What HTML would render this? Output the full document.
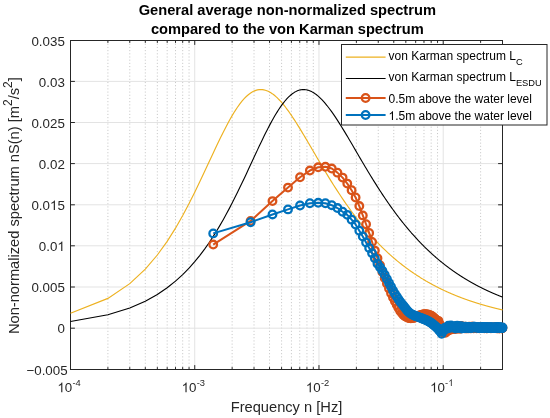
<!DOCTYPE html><html><head><meta charset="utf-8"><style>html,body{margin:0;padding:0;background:#fff;overflow:hidden;}svg{display:block;will-change:transform;}text{font-family:"Liberation Sans",sans-serif;}</style></head><body><svg width="550" height="418" viewBox="0 0 550 418"><rect x="0" y="0" width="550" height="418" fill="#fff"/><line x1="107.90" y1="40.5" x2="107.90" y2="369.5" stroke="#c8c8c8" stroke-width="1" stroke-dasharray="1.1 2.09"/><line x1="129.78" y1="40.5" x2="129.78" y2="369.5" stroke="#c8c8c8" stroke-width="1" stroke-dasharray="1.1 2.09"/><line x1="145.30" y1="40.5" x2="145.30" y2="369.5" stroke="#c8c8c8" stroke-width="1" stroke-dasharray="1.1 2.09"/><line x1="157.34" y1="40.5" x2="157.34" y2="369.5" stroke="#c8c8c8" stroke-width="1" stroke-dasharray="1.1 2.09"/><line x1="167.18" y1="40.5" x2="167.18" y2="369.5" stroke="#c8c8c8" stroke-width="1" stroke-dasharray="1.1 2.09"/><line x1="175.50" y1="40.5" x2="175.50" y2="369.5" stroke="#c8c8c8" stroke-width="1" stroke-dasharray="1.1 2.09"/><line x1="182.70" y1="40.5" x2="182.70" y2="369.5" stroke="#c8c8c8" stroke-width="1" stroke-dasharray="1.1 2.09"/><line x1="189.06" y1="40.5" x2="189.06" y2="369.5" stroke="#c8c8c8" stroke-width="1" stroke-dasharray="1.1 2.09"/><line x1="194.74" y1="40.5" x2="194.74" y2="369.5" stroke="#e3e3e3" stroke-width="1"/><line x1="232.14" y1="40.5" x2="232.14" y2="369.5" stroke="#c8c8c8" stroke-width="1" stroke-dasharray="1.1 2.09"/><line x1="254.02" y1="40.5" x2="254.02" y2="369.5" stroke="#c8c8c8" stroke-width="1" stroke-dasharray="1.1 2.09"/><line x1="269.54" y1="40.5" x2="269.54" y2="369.5" stroke="#c8c8c8" stroke-width="1" stroke-dasharray="1.1 2.09"/><line x1="281.58" y1="40.5" x2="281.58" y2="369.5" stroke="#c8c8c8" stroke-width="1" stroke-dasharray="1.1 2.09"/><line x1="291.42" y1="40.5" x2="291.42" y2="369.5" stroke="#c8c8c8" stroke-width="1" stroke-dasharray="1.1 2.09"/><line x1="299.74" y1="40.5" x2="299.74" y2="369.5" stroke="#c8c8c8" stroke-width="1" stroke-dasharray="1.1 2.09"/><line x1="306.94" y1="40.5" x2="306.94" y2="369.5" stroke="#c8c8c8" stroke-width="1" stroke-dasharray="1.1 2.09"/><line x1="313.30" y1="40.5" x2="313.30" y2="369.5" stroke="#c8c8c8" stroke-width="1" stroke-dasharray="1.1 2.09"/><line x1="318.98" y1="40.5" x2="318.98" y2="369.5" stroke="#e3e3e3" stroke-width="1"/><line x1="356.38" y1="40.5" x2="356.38" y2="369.5" stroke="#c8c8c8" stroke-width="1" stroke-dasharray="1.1 2.09"/><line x1="378.26" y1="40.5" x2="378.26" y2="369.5" stroke="#c8c8c8" stroke-width="1" stroke-dasharray="1.1 2.09"/><line x1="393.78" y1="40.5" x2="393.78" y2="369.5" stroke="#c8c8c8" stroke-width="1" stroke-dasharray="1.1 2.09"/><line x1="405.82" y1="40.5" x2="405.82" y2="369.5" stroke="#c8c8c8" stroke-width="1" stroke-dasharray="1.1 2.09"/><line x1="415.66" y1="40.5" x2="415.66" y2="369.5" stroke="#c8c8c8" stroke-width="1" stroke-dasharray="1.1 2.09"/><line x1="423.98" y1="40.5" x2="423.98" y2="369.5" stroke="#c8c8c8" stroke-width="1" stroke-dasharray="1.1 2.09"/><line x1="431.18" y1="40.5" x2="431.18" y2="369.5" stroke="#c8c8c8" stroke-width="1" stroke-dasharray="1.1 2.09"/><line x1="437.54" y1="40.5" x2="437.54" y2="369.5" stroke="#c8c8c8" stroke-width="1" stroke-dasharray="1.1 2.09"/><line x1="443.22" y1="40.5" x2="443.22" y2="369.5" stroke="#e3e3e3" stroke-width="1"/><line x1="480.62" y1="40.5" x2="480.62" y2="369.5" stroke="#c8c8c8" stroke-width="1" stroke-dasharray="1.1 2.09"/><line x1="502.50" y1="40.5" x2="502.50" y2="369.5" stroke="#c8c8c8" stroke-width="1" stroke-dasharray="1.1 2.09"/><line x1="70.5" y1="81.4" x2="502.5" y2="81.4" stroke="#e3e3e3" stroke-width="1"/><line x1="70.5" y1="122.5" x2="502.5" y2="122.5" stroke="#e3e3e3" stroke-width="1"/><line x1="70.5" y1="163.6" x2="502.5" y2="163.6" stroke="#e3e3e3" stroke-width="1"/><line x1="70.5" y1="204.8" x2="502.5" y2="204.8" stroke="#e3e3e3" stroke-width="1"/><line x1="70.5" y1="245.8" x2="502.5" y2="245.8" stroke="#e3e3e3" stroke-width="1"/><line x1="70.5" y1="287.0" x2="502.5" y2="287.0" stroke="#e3e3e3" stroke-width="1"/><line x1="70.5" y1="328.2" x2="502.5" y2="328.2" stroke="#e3e3e3" stroke-width="1"/><rect x="70.5" y="40.5" width="432.0" height="329.0" fill="none" stroke="#262626" stroke-width="1"/><line x1="70.50" y1="369.5" x2="70.50" y2="365.1" stroke="#262626" stroke-width="1"/><line x1="70.50" y1="40.5" x2="70.50" y2="44.9" stroke="#262626" stroke-width="1"/><line x1="107.90" y1="369.5" x2="107.90" y2="367.1" stroke="#262626" stroke-width="1"/><line x1="107.90" y1="40.5" x2="107.90" y2="42.9" stroke="#262626" stroke-width="1"/><line x1="129.78" y1="369.5" x2="129.78" y2="367.1" stroke="#262626" stroke-width="1"/><line x1="129.78" y1="40.5" x2="129.78" y2="42.9" stroke="#262626" stroke-width="1"/><line x1="145.30" y1="369.5" x2="145.30" y2="367.1" stroke="#262626" stroke-width="1"/><line x1="145.30" y1="40.5" x2="145.30" y2="42.9" stroke="#262626" stroke-width="1"/><line x1="157.34" y1="369.5" x2="157.34" y2="367.1" stroke="#262626" stroke-width="1"/><line x1="157.34" y1="40.5" x2="157.34" y2="42.9" stroke="#262626" stroke-width="1"/><line x1="167.18" y1="369.5" x2="167.18" y2="367.1" stroke="#262626" stroke-width="1"/><line x1="167.18" y1="40.5" x2="167.18" y2="42.9" stroke="#262626" stroke-width="1"/><line x1="175.50" y1="369.5" x2="175.50" y2="367.1" stroke="#262626" stroke-width="1"/><line x1="175.50" y1="40.5" x2="175.50" y2="42.9" stroke="#262626" stroke-width="1"/><line x1="182.70" y1="369.5" x2="182.70" y2="367.1" stroke="#262626" stroke-width="1"/><line x1="182.70" y1="40.5" x2="182.70" y2="42.9" stroke="#262626" stroke-width="1"/><line x1="189.06" y1="369.5" x2="189.06" y2="367.1" stroke="#262626" stroke-width="1"/><line x1="189.06" y1="40.5" x2="189.06" y2="42.9" stroke="#262626" stroke-width="1"/><line x1="194.74" y1="369.5" x2="194.74" y2="365.1" stroke="#262626" stroke-width="1"/><line x1="194.74" y1="40.5" x2="194.74" y2="44.9" stroke="#262626" stroke-width="1"/><line x1="232.14" y1="369.5" x2="232.14" y2="367.1" stroke="#262626" stroke-width="1"/><line x1="232.14" y1="40.5" x2="232.14" y2="42.9" stroke="#262626" stroke-width="1"/><line x1="254.02" y1="369.5" x2="254.02" y2="367.1" stroke="#262626" stroke-width="1"/><line x1="254.02" y1="40.5" x2="254.02" y2="42.9" stroke="#262626" stroke-width="1"/><line x1="269.54" y1="369.5" x2="269.54" y2="367.1" stroke="#262626" stroke-width="1"/><line x1="269.54" y1="40.5" x2="269.54" y2="42.9" stroke="#262626" stroke-width="1"/><line x1="281.58" y1="369.5" x2="281.58" y2="367.1" stroke="#262626" stroke-width="1"/><line x1="281.58" y1="40.5" x2="281.58" y2="42.9" stroke="#262626" stroke-width="1"/><line x1="291.42" y1="369.5" x2="291.42" y2="367.1" stroke="#262626" stroke-width="1"/><line x1="291.42" y1="40.5" x2="291.42" y2="42.9" stroke="#262626" stroke-width="1"/><line x1="299.74" y1="369.5" x2="299.74" y2="367.1" stroke="#262626" stroke-width="1"/><line x1="299.74" y1="40.5" x2="299.74" y2="42.9" stroke="#262626" stroke-width="1"/><line x1="306.94" y1="369.5" x2="306.94" y2="367.1" stroke="#262626" stroke-width="1"/><line x1="306.94" y1="40.5" x2="306.94" y2="42.9" stroke="#262626" stroke-width="1"/><line x1="313.30" y1="369.5" x2="313.30" y2="367.1" stroke="#262626" stroke-width="1"/><line x1="313.30" y1="40.5" x2="313.30" y2="42.9" stroke="#262626" stroke-width="1"/><line x1="318.98" y1="369.5" x2="318.98" y2="365.1" stroke="#262626" stroke-width="1"/><line x1="318.98" y1="40.5" x2="318.98" y2="44.9" stroke="#262626" stroke-width="1"/><line x1="356.38" y1="369.5" x2="356.38" y2="367.1" stroke="#262626" stroke-width="1"/><line x1="356.38" y1="40.5" x2="356.38" y2="42.9" stroke="#262626" stroke-width="1"/><line x1="378.26" y1="369.5" x2="378.26" y2="367.1" stroke="#262626" stroke-width="1"/><line x1="378.26" y1="40.5" x2="378.26" y2="42.9" stroke="#262626" stroke-width="1"/><line x1="393.78" y1="369.5" x2="393.78" y2="367.1" stroke="#262626" stroke-width="1"/><line x1="393.78" y1="40.5" x2="393.78" y2="42.9" stroke="#262626" stroke-width="1"/><line x1="405.82" y1="369.5" x2="405.82" y2="367.1" stroke="#262626" stroke-width="1"/><line x1="405.82" y1="40.5" x2="405.82" y2="42.9" stroke="#262626" stroke-width="1"/><line x1="415.66" y1="369.5" x2="415.66" y2="367.1" stroke="#262626" stroke-width="1"/><line x1="415.66" y1="40.5" x2="415.66" y2="42.9" stroke="#262626" stroke-width="1"/><line x1="423.98" y1="369.5" x2="423.98" y2="367.1" stroke="#262626" stroke-width="1"/><line x1="423.98" y1="40.5" x2="423.98" y2="42.9" stroke="#262626" stroke-width="1"/><line x1="431.18" y1="369.5" x2="431.18" y2="367.1" stroke="#262626" stroke-width="1"/><line x1="431.18" y1="40.5" x2="431.18" y2="42.9" stroke="#262626" stroke-width="1"/><line x1="437.54" y1="369.5" x2="437.54" y2="367.1" stroke="#262626" stroke-width="1"/><line x1="437.54" y1="40.5" x2="437.54" y2="42.9" stroke="#262626" stroke-width="1"/><line x1="443.22" y1="369.5" x2="443.22" y2="365.1" stroke="#262626" stroke-width="1"/><line x1="443.22" y1="40.5" x2="443.22" y2="44.9" stroke="#262626" stroke-width="1"/><line x1="480.62" y1="369.5" x2="480.62" y2="367.1" stroke="#262626" stroke-width="1"/><line x1="480.62" y1="40.5" x2="480.62" y2="42.9" stroke="#262626" stroke-width="1"/><line x1="502.50" y1="369.5" x2="502.50" y2="367.1" stroke="#262626" stroke-width="1"/><line x1="502.50" y1="40.5" x2="502.50" y2="42.9" stroke="#262626" stroke-width="1"/><line x1="70.5" y1="40.5" x2="74.9" y2="40.5" stroke="#262626" stroke-width="1"/><line x1="502.5" y1="40.5" x2="498.1" y2="40.5" stroke="#262626" stroke-width="1"/><line x1="70.5" y1="81.4" x2="74.9" y2="81.4" stroke="#262626" stroke-width="1"/><line x1="502.5" y1="81.4" x2="498.1" y2="81.4" stroke="#262626" stroke-width="1"/><line x1="70.5" y1="122.5" x2="74.9" y2="122.5" stroke="#262626" stroke-width="1"/><line x1="502.5" y1="122.5" x2="498.1" y2="122.5" stroke="#262626" stroke-width="1"/><line x1="70.5" y1="163.6" x2="74.9" y2="163.6" stroke="#262626" stroke-width="1"/><line x1="502.5" y1="163.6" x2="498.1" y2="163.6" stroke="#262626" stroke-width="1"/><line x1="70.5" y1="204.8" x2="74.9" y2="204.8" stroke="#262626" stroke-width="1"/><line x1="502.5" y1="204.8" x2="498.1" y2="204.8" stroke="#262626" stroke-width="1"/><line x1="70.5" y1="245.8" x2="74.9" y2="245.8" stroke="#262626" stroke-width="1"/><line x1="502.5" y1="245.8" x2="498.1" y2="245.8" stroke="#262626" stroke-width="1"/><line x1="70.5" y1="287.0" x2="74.9" y2="287.0" stroke="#262626" stroke-width="1"/><line x1="502.5" y1="287.0" x2="498.1" y2="287.0" stroke="#262626" stroke-width="1"/><line x1="70.5" y1="328.2" x2="74.9" y2="328.2" stroke="#262626" stroke-width="1"/><line x1="502.5" y1="328.2" x2="498.1" y2="328.2" stroke="#262626" stroke-width="1"/><line x1="70.5" y1="369.5" x2="74.9" y2="369.5" stroke="#262626" stroke-width="1"/><line x1="502.5" y1="369.5" x2="498.1" y2="369.5" stroke="#262626" stroke-width="1"/><path d="M70.50,313.32 L107.90,298.37 L129.78,283.61 L145.30,269.12 L157.34,255.01 L167.18,241.34 L175.50,228.18 L182.70,215.58 L189.06,203.59 L194.74,192.25 L199.88,181.58 L204.58,171.60 L208.90,162.31 L212.90,153.70 L216.62,145.78 L220.10,138.52 L223.37,131.90 L226.46,125.90 L229.37,120.49 L232.14,115.64 L234.77,111.31 L237.28,107.49 L239.68,104.13 L241.98,101.20 L244.18,98.68 L246.30,96.53 L248.33,94.72 L250.30,93.23 L252.19,92.03 L254.02,91.09 L255.79,90.40 L257.50,89.93 L259.16,89.66 L260.77,89.58 L262.34,89.65 L263.86,89.88 L265.33,90.25 L266.77,90.73 L268.17,91.32 L269.54,92.02 L270.87,92.79 L272.17,93.65 L273.44,94.58 L274.68,95.56 L275.90,96.61 L277.08,97.69 L278.24,98.83 L279.38,99.99 L280.49,101.19 L281.58,102.42 L282.65,103.66 L283.70,104.93 L284.73,106.22 L285.73,107.51 L286.72,108.82 L287.70,110.13 L288.65,111.45 L289.59,112.77 L290.51,114.09 L291.42,115.42 L292.31,116.74 L293.19,118.06 L294.05,119.37 L294.90,120.68 L295.74,121.99 L296.56,123.28 L297.37,124.57 L298.17,125.85 L298.96,127.12 L299.74,128.38 L300.50,129.64 L301.26,130.88 L302.00,132.11 L302.73,133.33 L303.46,134.54 L304.17,135.74 L304.88,136.92 L305.58,138.10 L306.26,139.26 L306.94,140.41 L307.61,141.55 L308.27,142.68 L308.93,143.80 L309.57,144.90 L310.21,145.99 L310.84,147.07 L311.47,148.14 L312.08,149.19 L312.69,150.24 L313.30,151.27 L313.89,152.29 L314.48,153.30 L315.07,154.30 L315.64,155.29 L316.21,156.26 L316.78,157.23 L317.34,158.18 L317.89,159.12 L318.44,160.06 L318.98,160.98 L319.52,161.89 L322.13,166.29 L324.61,170.45 L326.99,174.39 L329.27,178.11 L331.45,181.63 L333.55,184.98 L335.57,188.15 L337.52,191.17 L339.40,194.04 L341.22,196.77 L342.98,199.37 L344.68,201.86 L346.33,204.24 L347.93,206.51 L349.48,208.69 L351.00,210.77 L352.47,212.77 L353.90,214.69 L355.29,216.53 L356.65,218.31 L357.98,220.02 L359.27,221.66 L360.53,223.24 L361.77,224.77 L362.98,226.25 L364.16,227.67 L365.31,229.05 L366.44,230.39 L367.55,231.68 L368.64,232.92 L369.70,234.13 L370.75,235.31 L371.77,236.45 L372.77,237.55 L373.76,238.62 L374.73,239.66 L375.68,240.68 L376.62,241.66 L377.54,242.62 L378.44,243.55 L379.33,244.46 L380.20,245.34 L381.06,246.20 L381.91,247.04 L382.74,247.86 L383.57,248.66 L384.37,249.44 L385.17,250.20 L385.96,250.94 L386.73,251.67 L387.49,252.38 L388.25,253.07 L388.99,253.75 L389.72,254.41 L390.44,255.06 L391.16,255.69 L391.86,256.31 L392.55,256.92 L393.24,257.52 L393.92,258.10 L394.59,258.67 L395.25,259.23 L395.90,259.78 L396.54,260.32 L397.18,260.85 L397.81,261.36 L398.43,261.87 L399.05,262.37 L399.66,262.86 L400.26,263.34 L400.85,263.81 L401.44,264.28 L402.02,264.73 L402.60,265.18 L403.17,265.62 L403.73,266.05 L404.29,266.47 L404.84,266.89 L405.39,267.30 L405.93,267.71 L406.47,268.10 L407.00,268.49 L407.52,268.88 L408.04,269.26 L408.56,269.63 L409.07,270.00 L409.57,270.36 L410.07,270.71 L410.57,271.06 L411.06,271.41 L411.55,271.75 L412.03,272.08 L412.51,272.41 L412.99,272.74 L413.46,273.06 L413.92,273.38 L414.39,273.69 L414.84,273.99 L415.30,274.30 L415.75,274.60 L416.20,274.89 L416.64,275.18 L417.08,275.47 L417.52,275.75 L417.95,276.03 L418.38,276.31 L418.80,276.58 L419.23,276.85 L419.65,277.11 L420.06,277.37 L420.47,277.63 L420.88,277.89 L421.29,278.14 L421.69,278.39 L422.09,278.63 L422.49,278.88 L422.89,279.12 L423.28,279.35 L423.67,279.59 L424.05,279.82 L424.44,280.05 L424.82,280.27 L425.20,280.50 L425.57,280.72 L425.94,280.94 L426.32,281.15 L426.68,281.36 L427.05,281.58 L427.41,281.78 L427.77,281.99 L428.13,282.19 L428.49,282.40 L428.84,282.60 L429.19,282.79 L429.54,282.99 L429.89,283.18 L430.23,283.37 L430.57,283.56 L430.91,283.75 L431.25,283.94 L431.59,284.12 L431.92,284.30 L432.25,284.48 L432.58,284.66 L432.91,284.83 L433.23,285.01 L433.56,285.18 L433.88,285.35 L434.20,285.52 L434.52,285.69 L434.83,285.85 L435.15,286.02 L435.46,286.18 L435.77,286.34 L436.08,286.50 L436.39,286.66 L436.69,286.82 L436.99,286.97 L437.30,287.13 L437.60,287.28 L437.90,287.43 L438.19,287.58 L438.49,287.73 L438.78,287.87 L439.07,288.02 L439.36,288.16 L439.65,288.31 L439.94,288.45 L440.23,288.59 L440.51,288.73 L440.79,288.87 L441.08,289.00 L441.36,289.14 L441.63,289.27 L441.91,289.41 L442.19,289.54 L442.46,289.67 L442.73,289.80 L443.01,289.93 L443.28,290.06 L443.54,290.18 L443.81,290.31 L444.08,290.43 L444.34,290.56 L444.61,290.68 L444.87,290.80 L445.13,290.92 L445.39,291.04 L445.65,291.16 L445.91,291.28 L446.16,291.40 L446.42,291.51 L446.67,291.63 L446.92,291.74 L447.17,291.86 L447.42,291.97 L447.67,292.08 L447.92,292.19 L448.17,292.30 L448.41,292.41 L448.66,292.52 L448.90,292.63 L449.14,292.73 L449.39,292.84 L449.63,292.94 L449.86,293.05 L450.10,293.15 L450.34,293.25 L450.58,293.36 L450.81,293.46 L451.04,293.56 L451.28,293.66 L451.51,293.76 L451.74,293.86 L451.97,293.95 L452.20,294.05 L452.43,294.15 L452.65,294.24 L452.88,294.34 L453.10,294.43 L453.33,294.53 L453.55,294.62 L453.77,294.71 L454.00,294.80 L454.22,294.90 L454.44,294.99 L454.65,295.08 L454.87,295.17 L455.09,295.25 L455.31,295.34 L455.52,295.43 L455.74,295.52 L455.95,295.60 L456.16,295.69 L456.37,295.77 L456.58,295.86 L456.79,295.94 L457.00,296.03 L457.21,296.11 L457.42,296.19 L457.63,296.28 L457.83,296.36 L458.04,296.44 L458.24,296.52 L458.45,296.60 L458.65,296.68 L458.85,296.76 L459.05,296.84 L459.25,296.91 L459.45,296.99 L459.65,297.07 L459.85,297.14 L460.05,297.22 L460.25,297.30 L460.44,297.37 L460.64,297.45 L460.83,297.52 L461.03,297.60 L461.22,297.67 L461.42,297.74 L461.61,297.81 L461.80,297.89 L461.99,297.96 L462.18,298.03 L462.37,298.10 L462.56,298.17 L462.75,298.24 L462.93,298.31 L463.12,298.38 L463.31,298.45 L463.49,298.52 L463.68,298.59 L463.86,298.65 L464.05,298.72 L464.23,298.79 L464.41,298.85 L464.59,298.92 L464.78,298.99 L464.96,299.05 L465.14,299.12 L465.32,299.18 L465.49,299.25 L465.67,299.31 L465.85,299.37 L466.03,299.44 L466.20,299.50 L466.38,299.56 L466.55,299.62 L466.73,299.69 L466.90,299.75 L467.08,299.81 L467.25,299.87 L467.42,299.93 L467.60,299.99 L467.77,300.05 L467.94,300.11 L468.11,300.17 L468.28,300.23 L468.45,300.29 L468.62,300.35 L468.78,300.41 L468.95,300.46 L469.12,300.52 L469.29,300.58 L469.45,300.63 L469.62,300.69 L469.78,300.75 L469.95,300.80 L470.11,300.86 L470.28,300.92 L470.44,300.97 L470.60,301.03 L470.76,301.08 L470.92,301.13 L471.09,301.19 L471.25,301.24 L471.41,301.30 L471.57,301.35 L471.73,301.40 L471.88,301.46 L472.04,301.51 L472.20,301.56 L472.36,301.61 L472.52,301.66 L472.67,301.72 L472.83,301.77 L472.98,301.82 L473.14,301.87 L473.29,301.92 L473.45,301.97 L473.60,302.02 L473.76,302.07 L473.91,302.12 L474.06,302.17 L474.21,302.22 L474.36,302.27 L474.52,302.32 L474.67,302.36 L474.82,302.41 L474.97,302.46 L475.12,302.51 L475.27,302.56 L475.41,302.60 L475.56,302.65 L475.71,302.70 L475.86,302.74 L476.01,302.79 L476.15,302.84 L476.30,302.88 L476.44,302.93 L476.59,302.98 L476.74,303.02 L476.88,303.07 L477.02,303.11 L477.17,303.16 L477.31,303.20 L477.46,303.25 L477.60,303.29 L477.74,303.33 L477.88,303.38 L478.02,303.42 L478.17,303.46 L478.31,303.51 L478.45,303.55 L478.59,303.59 L478.73,303.64 L478.87,303.68 L479.01,303.72 L479.15,303.76 L479.28,303.81 L479.42,303.85 L479.56,303.89 L479.70,303.93 L479.83,303.97 L479.97,304.01 L480.11,304.05 L480.24,304.10 L480.38,304.14 L480.51,304.18 L480.65,304.22 L480.78,304.26 L480.92,304.30 L481.05,304.34 L481.19,304.38 L481.32,304.42 L481.45,304.46 L481.58,304.49 L481.72,304.53 L481.85,304.57 L481.98,304.61 L482.11,304.65 L482.24,304.69 L482.37,304.73 L482.50,304.76 L482.63,304.80 L482.76,304.84 L482.89,304.88 L483.02,304.91 L483.15,304.95 L483.28,304.99 L483.41,305.03 L483.54,305.06 L483.66,305.10 L483.79,305.14 L483.92,305.17 L484.05,305.21 L484.17,305.25 L484.30,305.28 L484.42,305.32 L484.55,305.35 L484.67,305.39 L484.80,305.42 L484.92,305.46 L485.05,305.49 L485.17,305.53 L485.30,305.56 L485.42,305.60 L485.54,305.63 L485.67,305.67 L485.79,305.70 L485.91,305.74 L486.03,305.77 L486.16,305.81 L486.28,305.84 L486.40,305.87 L486.52,305.91 L486.64,305.94 L486.76,305.97 L486.88,306.01 L487.00,306.04 L487.12,306.07 L487.24,306.11 L487.36,306.14 L487.48,306.17 L487.60,306.20 L487.72,306.24 L487.83,306.27 L487.95,306.30 L488.07,306.33 L488.19,306.36 L488.30,306.40 L488.42,306.43 L488.54,306.46 L488.65,306.49 L488.77,306.52 L488.89,306.55 L489.00,306.58 L489.12,306.62 L489.23,306.65 L489.35,306.68 L489.46,306.71 L489.58,306.74 L489.69,306.77 L489.80,306.80 L489.92,306.83 L490.03,306.86 L490.14,306.89 L490.26,306.92 L490.37,306.95 L490.48,306.98 L490.59,307.01 L490.71,307.04 L490.82,307.07 L490.93,307.10 L491.04,307.13 L491.15,307.16 L491.26,307.18 L491.37,307.21 L491.48,307.24 L491.59,307.27 L491.70,307.30 L491.81,307.33 L491.92,307.36 L492.03,307.39 L492.14,307.41 L492.25,307.44 L492.36,307.47 L492.47,307.50 L492.58,307.53 L492.68,307.55 L492.79,307.58 L492.90,307.61 L493.01,307.64 L493.11,307.66 L493.22,307.69 L493.33,307.72 L493.43,307.75 L493.54,307.77 L493.65,307.80 L493.75,307.83 L493.86,307.85 L493.96,307.88 L494.07,307.91 L494.17,307.93 L494.28,307.96 L494.38,307.99 L494.49,308.01 L494.59,308.04 L494.70,308.06 L494.80,308.09 L494.90,308.12 L495.01,308.14 L495.11,308.17 L495.21,308.19 L495.32,308.22 L495.42,308.25 L495.52,308.27 L495.62,308.30 L495.72,308.32 L495.83,308.35 L495.93,308.37 L496.03,308.40 L496.13,308.42 L496.23,308.45 L496.33,308.47 L496.43,308.50 L496.53,308.52 L496.63,308.55 L496.74,308.57 L496.84,308.59 L496.93,308.62 L497.03,308.64 L497.13,308.67 L497.23,308.69 L497.33,308.72 L497.43,308.74 L497.53,308.76 L497.63,308.79 L497.73,308.81 L497.82,308.83 L497.92,308.86 L498.02,308.88 L498.12,308.91 L498.22,308.93 L498.31,308.95 L498.41,308.98 L498.51,309.00 L498.60,309.02 L498.70,309.04 L498.80,309.07 L498.89,309.09 L498.99,309.11 L499.08,309.14 L499.18,309.16 L499.28,309.18 L499.37,309.20 L499.47,309.23 L499.56,309.25 L499.66,309.27 L499.75,309.29 L499.85,309.32 L499.94,309.34 L500.03,309.36 L500.13,309.38 L500.22,309.40 L500.32,309.43 L500.41,309.45 L500.50,309.47 L500.60,309.49 L500.69,309.51 L500.78,309.54 L500.88,309.56 L500.97,309.58 L501.06,309.60 L501.15,309.62 L501.24,309.64 L501.34,309.66 L501.43,309.69 L501.52,309.71 L501.61,309.73 L501.70,309.75 L501.79,309.77 L501.88,309.79 L501.98,309.81 L502.07,309.83 L502.16,309.85 L502.25,309.87 L502.34,309.89 L502.43,309.91 L502.50,309.93" fill="none" stroke="#EDB120" stroke-width="1.15"/><path d="M70.50,321.56 L107.90,314.76 L129.78,307.97 L145.30,301.21 L157.34,294.48 L167.18,287.80 L175.50,281.17 L182.70,274.61 L189.06,268.11 L194.74,261.69 L199.88,255.35 L204.58,249.10 L208.90,242.95 L212.90,236.90 L216.62,230.96 L220.10,225.13 L223.37,219.42 L226.46,213.84 L229.37,208.38 L232.14,203.05 L234.77,197.85 L237.28,192.79 L239.68,187.86 L241.98,183.08 L244.18,178.43 L246.30,173.93 L248.33,169.56 L250.30,165.34 L252.19,161.26 L254.02,157.32 L255.79,153.52 L257.50,149.86 L259.16,146.33 L260.77,142.95 L262.34,139.69 L263.86,136.57 L265.33,133.58 L266.77,130.72 L268.17,127.98 L269.54,125.37 L270.87,122.87 L272.17,120.50 L273.44,118.23 L274.68,116.08 L275.90,114.04 L277.08,112.11 L278.24,110.27 L279.38,108.54 L280.49,106.90 L281.58,105.36 L282.65,103.91 L283.70,102.55 L284.73,101.27 L285.73,100.08 L286.72,98.96 L287.70,97.93 L288.65,96.96 L289.59,96.07 L290.51,95.25 L291.42,94.49 L292.31,93.80 L293.19,93.17 L294.05,92.60 L294.90,92.08 L295.74,91.62 L296.56,91.22 L297.37,90.86 L298.17,90.55 L298.96,90.29 L299.74,90.07 L300.50,89.89 L301.26,89.76 L302.00,89.66 L302.73,89.60 L303.46,89.58 L304.17,89.59 L304.88,89.63 L305.58,89.70 L306.26,89.81 L306.94,89.94 L307.61,90.10 L308.27,90.29 L308.93,90.49 L309.57,90.73 L310.21,90.98 L310.84,91.26 L311.47,91.56 L312.08,91.87 L312.69,92.21 L313.30,92.56 L313.89,92.93 L314.48,93.31 L315.07,93.71 L315.64,94.12 L316.21,94.55 L316.78,94.99 L317.34,95.44 L317.89,95.90 L318.44,96.37 L318.98,96.86 L319.52,97.35 L322.13,99.93 L324.61,102.68 L326.99,105.53 L329.27,108.47 L331.45,111.44 L333.55,114.43 L335.57,117.42 L337.52,120.39 L339.40,123.33 L341.22,126.24 L342.98,129.09 L344.68,131.90 L346.33,134.65 L347.93,137.34 L349.48,139.97 L351.00,142.54 L352.47,145.05 L353.90,147.50 L355.29,149.88 L356.65,152.21 L357.98,154.48 L359.27,156.69 L360.53,158.85 L361.77,160.95 L362.98,162.99 L364.16,164.99 L365.31,166.93 L366.44,168.83 L367.55,170.67 L368.64,172.47 L369.70,174.23 L370.75,175.94 L371.77,177.61 L372.77,179.24 L373.76,180.84 L374.73,182.39 L375.68,183.91 L376.62,185.39 L377.54,186.83 L378.44,188.25 L379.33,189.63 L380.20,190.98 L381.06,192.30 L381.91,193.59 L382.74,194.85 L383.57,196.08 L384.37,197.29 L385.17,198.47 L385.96,199.63 L386.73,200.77 L387.49,201.88 L388.25,202.96 L388.99,204.03 L389.72,205.07 L390.44,206.10 L391.16,207.10 L391.86,208.09 L392.55,209.05 L393.24,210.00 L393.92,210.93 L394.59,211.84 L395.25,212.73 L395.90,213.61 L396.54,214.48 L397.18,215.32 L397.81,216.16 L398.43,216.97 L399.05,217.78 L399.66,218.57 L400.26,219.34 L400.85,220.10 L401.44,220.85 L402.02,221.59 L402.60,222.32 L403.17,223.03 L403.73,223.73 L404.29,224.42 L404.84,225.10 L405.39,225.77 L405.93,226.43 L406.47,227.08 L407.00,227.72 L407.52,228.34 L408.04,228.96 L408.56,229.57 L409.07,230.17 L409.57,230.76 L410.07,231.35 L410.57,231.92 L411.06,232.49 L411.55,233.05 L412.03,233.60 L412.51,234.14 L412.99,234.68 L413.46,235.20 L413.92,235.72 L414.39,236.24 L414.84,236.74 L415.30,237.24 L415.75,237.74 L416.20,238.22 L416.64,238.70 L417.08,239.18 L417.52,239.64 L417.95,240.11 L418.38,240.56 L418.80,241.01 L419.23,241.46 L419.65,241.90 L420.06,242.33 L420.47,242.76 L420.88,243.18 L421.29,243.60 L421.69,244.01 L422.09,244.42 L422.49,244.82 L422.89,245.22 L423.28,245.61 L423.67,246.00 L424.05,246.39 L424.44,246.77 L424.82,247.14 L425.20,247.52 L425.57,247.88 L425.94,248.25 L426.32,248.61 L426.68,248.96 L427.05,249.31 L427.41,249.66 L427.77,250.00 L428.13,250.34 L428.49,250.68 L428.84,251.01 L429.19,251.34 L429.54,251.67 L429.89,251.99 L430.23,252.31 L430.57,252.63 L430.91,252.94 L431.25,253.25 L431.59,253.56 L431.92,253.86 L432.25,254.16 L432.58,254.46 L432.91,254.75 L433.23,255.04 L433.56,255.33 L433.88,255.62 L434.20,255.90 L434.52,256.18 L434.83,256.46 L435.15,256.74 L435.46,257.01 L435.77,257.28 L436.08,257.55 L436.39,257.81 L436.69,258.07 L436.99,258.33 L437.30,258.59 L437.60,258.85 L437.90,259.10 L438.19,259.35 L438.49,259.60 L438.78,259.85 L439.07,260.09 L439.36,260.33 L439.65,260.57 L439.94,260.81 L440.23,261.05 L440.51,261.28 L440.79,261.51 L441.08,261.74 L441.36,261.97 L441.63,262.19 L441.91,262.42 L442.19,262.64 L442.46,262.86 L442.73,263.08 L443.01,263.30 L443.28,263.51 L443.54,263.72 L443.81,263.93 L444.08,264.14 L444.34,264.35 L444.61,264.56 L444.87,264.76 L445.13,264.97 L445.39,265.17 L445.65,265.37 L445.91,265.57 L446.16,265.76 L446.42,265.96 L446.67,266.15 L446.92,266.34 L447.17,266.53 L447.42,266.72 L447.67,266.91 L447.92,267.10 L448.17,267.28 L448.41,267.47 L448.66,267.65 L448.90,267.83 L449.14,268.01 L449.39,268.19 L449.63,268.37 L449.86,268.54 L450.10,268.72 L450.34,268.89 L450.58,269.06 L450.81,269.23 L451.04,269.40 L451.28,269.57 L451.51,269.74 L451.74,269.90 L451.97,270.07 L452.20,270.23 L452.43,270.39 L452.65,270.55 L452.88,270.71 L453.10,270.87 L453.33,271.03 L453.55,271.19 L453.77,271.34 L454.00,271.50 L454.22,271.65 L454.44,271.81 L454.65,271.96 L454.87,272.11 L455.09,272.26 L455.31,272.41 L455.52,272.55 L455.74,272.70 L455.95,272.85 L456.16,272.99 L456.37,273.14 L456.58,273.28 L456.79,273.42 L457.00,273.56 L457.21,273.70 L457.42,273.84 L457.63,273.98 L457.83,274.12 L458.04,274.25 L458.24,274.39 L458.45,274.53 L458.65,274.66 L458.85,274.79 L459.05,274.93 L459.25,275.06 L459.45,275.19 L459.65,275.32 L459.85,275.45 L460.05,275.58 L460.25,275.70 L460.44,275.83 L460.64,275.96 L460.83,276.08 L461.03,276.21 L461.22,276.33 L461.42,276.45 L461.61,276.58 L461.80,276.70 L461.99,276.82 L462.18,276.94 L462.37,277.06 L462.56,277.18 L462.75,277.30 L462.93,277.42 L463.12,277.53 L463.31,277.65 L463.49,277.76 L463.68,277.88 L463.86,277.99 L464.05,278.11 L464.23,278.22 L464.41,278.33 L464.59,278.45 L464.78,278.56 L464.96,278.67 L465.14,278.78 L465.32,278.89 L465.49,279.00 L465.67,279.10 L465.85,279.21 L466.03,279.32 L466.20,279.42 L466.38,279.53 L466.55,279.64 L466.73,279.74 L466.90,279.84 L467.08,279.95 L467.25,280.05 L467.42,280.15 L467.60,280.26 L467.77,280.36 L467.94,280.46 L468.11,280.56 L468.28,280.66 L468.45,280.76 L468.62,280.86 L468.78,280.95 L468.95,281.05 L469.12,281.15 L469.29,281.25 L469.45,281.34 L469.62,281.44 L469.78,281.53 L469.95,281.63 L470.11,281.72 L470.28,281.82 L470.44,281.91 L470.60,282.00 L470.76,282.10 L470.92,282.19 L471.09,282.28 L471.25,282.37 L471.41,282.46 L471.57,282.55 L471.73,282.64 L471.88,282.73 L472.04,282.82 L472.20,282.91 L472.36,283.00 L472.52,283.08 L472.67,283.17 L472.83,283.26 L472.98,283.34 L473.14,283.43 L473.29,283.52 L473.45,283.60 L473.60,283.69 L473.76,283.77 L473.91,283.85 L474.06,283.94 L474.21,284.02 L474.36,284.10 L474.52,284.19 L474.67,284.27 L474.82,284.35 L474.97,284.43 L475.12,284.51 L475.27,284.59 L475.41,284.67 L475.56,284.75 L475.71,284.83 L475.86,284.91 L476.01,284.99 L476.15,285.07 L476.30,285.15 L476.44,285.22 L476.59,285.30 L476.74,285.38 L476.88,285.46 L477.02,285.53 L477.17,285.61 L477.31,285.68 L477.46,285.76 L477.60,285.83 L477.74,285.91 L477.88,285.98 L478.02,286.06 L478.17,286.13 L478.31,286.20 L478.45,286.28 L478.59,286.35 L478.73,286.42 L478.87,286.49 L479.01,286.57 L479.15,286.64 L479.28,286.71 L479.42,286.78 L479.56,286.85 L479.70,286.92 L479.83,286.99 L479.97,287.06 L480.11,287.13 L480.24,287.20 L480.38,287.27 L480.51,287.34 L480.65,287.40 L480.78,287.47 L480.92,287.54 L481.05,287.61 L481.19,287.67 L481.32,287.74 L481.45,287.81 L481.58,287.87 L481.72,287.94 L481.85,288.00 L481.98,288.07 L482.11,288.14 L482.24,288.20 L482.37,288.27 L482.50,288.33 L482.63,288.39 L482.76,288.46 L482.89,288.52 L483.02,288.58 L483.15,288.65 L483.28,288.71 L483.41,288.77 L483.54,288.84 L483.66,288.90 L483.79,288.96 L483.92,289.02 L484.05,289.08 L484.17,289.14 L484.30,289.21 L484.42,289.27 L484.55,289.33 L484.67,289.39 L484.80,289.45 L484.92,289.51 L485.05,289.57 L485.17,289.63 L485.30,289.69 L485.42,289.74 L485.54,289.80 L485.67,289.86 L485.79,289.92 L485.91,289.98 L486.03,290.04 L486.16,290.09 L486.28,290.15 L486.40,290.21 L486.52,290.26 L486.64,290.32 L486.76,290.38 L486.88,290.43 L487.00,290.49 L487.12,290.55 L487.24,290.60 L487.36,290.66 L487.48,290.71 L487.60,290.77 L487.72,290.82 L487.83,290.88 L487.95,290.93 L488.07,290.99 L488.19,291.04 L488.30,291.09 L488.42,291.15 L488.54,291.20 L488.65,291.25 L488.77,291.31 L488.89,291.36 L489.00,291.41 L489.12,291.47 L489.23,291.52 L489.35,291.57 L489.46,291.62 L489.58,291.67 L489.69,291.73 L489.80,291.78 L489.92,291.83 L490.03,291.88 L490.14,291.93 L490.26,291.98 L490.37,292.03 L490.48,292.08 L490.59,292.13 L490.71,292.18 L490.82,292.23 L490.93,292.28 L491.04,292.33 L491.15,292.38 L491.26,292.43 L491.37,292.48 L491.48,292.53 L491.59,292.58 L491.70,292.62 L491.81,292.67 L491.92,292.72 L492.03,292.77 L492.14,292.82 L492.25,292.87 L492.36,292.91 L492.47,292.96 L492.58,293.01 L492.68,293.05 L492.79,293.10 L492.90,293.15 L493.01,293.19 L493.11,293.24 L493.22,293.29 L493.33,293.33 L493.43,293.38 L493.54,293.43 L493.65,293.47 L493.75,293.52 L493.86,293.56 L493.96,293.61 L494.07,293.65 L494.17,293.70 L494.28,293.74 L494.38,293.79 L494.49,293.83 L494.59,293.88 L494.70,293.92 L494.80,293.96 L494.90,294.01 L495.01,294.05 L495.11,294.10 L495.21,294.14 L495.32,294.18 L495.42,294.23 L495.52,294.27 L495.62,294.31 L495.72,294.35 L495.83,294.40 L495.93,294.44 L496.03,294.48 L496.13,294.53 L496.23,294.57 L496.33,294.61 L496.43,294.65 L496.53,294.69 L496.63,294.73 L496.74,294.78 L496.84,294.82 L496.93,294.86 L497.03,294.90 L497.13,294.94 L497.23,294.98 L497.33,295.02 L497.43,295.06 L497.53,295.10 L497.63,295.14 L497.73,295.18 L497.82,295.23 L497.92,295.27 L498.02,295.31 L498.12,295.34 L498.22,295.38 L498.31,295.42 L498.41,295.46 L498.51,295.50 L498.60,295.54 L498.70,295.58 L498.80,295.62 L498.89,295.66 L498.99,295.70 L499.08,295.74 L499.18,295.78 L499.28,295.81 L499.37,295.85 L499.47,295.89 L499.56,295.93 L499.66,295.97 L499.75,296.00 L499.85,296.04 L499.94,296.08 L500.03,296.12 L500.13,296.15 L500.22,296.19 L500.32,296.23 L500.41,296.27 L500.50,296.30 L500.60,296.34 L500.69,296.38 L500.78,296.41 L500.88,296.45 L500.97,296.49 L501.06,296.52 L501.15,296.56 L501.24,296.60 L501.34,296.63 L501.43,296.67 L501.52,296.70 L501.61,296.74 L501.70,296.77 L501.79,296.81 L501.88,296.85 L501.98,296.88 L502.07,296.92 L502.16,296.95 L502.25,296.99 L502.34,297.02 L502.43,297.06 L502.50,297.08" fill="none" stroke="#000" stroke-width="1.1"/><path d="M213.20,244.54 L250.60,220.95 L272.48,201.09 L288.00,187.61 L300.04,177.27 L309.88,170.55 L318.20,167.28 L325.40,166.80 L331.76,168.56 L337.44,172.64 L342.59,177.61 L347.28,183.59 L351.60,190.27 L355.60,197.51 L359.32,206.06 L362.80,215.42 L366.08,224.27 L369.16,232.93 L372.08,241.96 L374.84,250.58 L377.48,258.22 L379.99,265.32 L382.39,272.03 L384.68,277.95 L386.88,283.45 L389.00,288.62 L391.04,293.32 L393.00,297.53 L394.89,301.37 L396.72,304.85 L398.49,308.04 L400.20,310.89 L401.86,313.09 L403.48,314.96 L405.04,316.29 L406.56,317.08 L408.04,317.72 L409.48,318.15 L410.88,318.30 L412.24,318.17 L413.58,317.88 L414.88,317.53 L416.15,317.07 L417.39,316.43 L418.60,315.81 L419.79,315.38 L420.95,314.99 L422.08,314.64 L423.19,314.37 L424.28,314.22 L425.35,314.22 L426.40,314.33 L427.43,314.52 L428.44,314.77 L429.43,315.06 L430.40,315.37 L431.35,315.83 L432.29,316.47 L433.22,317.21 L434.12,318.03 L435.01,318.86 L435.89,319.67 L436.75,320.48 L437.60,321.34 L438.44,320.84 L439.26,323.44 L440.08,325.05 L440.88,326.29 L441.66,329.66 L442.44,330.18 L443.20,332.47 L443.96,331.06 L444.70,331.31 L445.44,332.83 L446.16,330.57 L446.88,329.02 L447.58,331.01 L448.28,328.77 L448.97,329.75 L449.64,329.42 L450.31,329.75 L450.98,328.76 L451.63,329.02 L452.28,327.59 L452.92,327.21 L453.55,329.10 L454.17,327.50 L454.79,329.12 L455.40,328.08 L456.00,327.88 L456.60,326.22 L457.19,328.85 L457.77,327.24 L458.35,327.65 L458.92,327.11 L459.48,326.56 L460.04,328.70 L460.59,327.65 L461.14,325.83 L461.68,327.80 L462.22,327.12 L462.75,327.49 L463.28,328.15 L463.80,327.21 L464.32,328.21 L464.83,327.71 L465.34,326.62 L465.84,328.28 L466.33,327.86 L466.83,328.42 L467.32,326.95 L467.80,326.90 L468.28,328.34 L468.75,327.93 L469.23,326.80 L469.69,328.05 L470.16,328.06 L470.62,328.38 L471.07,328.01 L471.52,326.97 L471.97,326.79 L472.41,326.82 L472.85,326.84 L473.29,327.25 L473.72,328.37 L474.15,327.81 L474.58,327.86 L475.00,328.05 L475.42,327.49 L475.84,327.63 L476.25,327.89 L476.66,328.21 L477.07,327.90 L477.48,327.48 L477.88,328.11 L478.28,327.67 L478.67,328.13 L479.06,327.80 L479.45,328.19 L479.84,328.10 L480.22,327.94 L480.61,327.61 L480.98,327.55 L481.36,327.60 L481.73,327.54 L482.10,327.59 L482.47,327.68 L482.84,328.07 L483.20,327.95 L483.56,327.51 L483.92,327.56 L484.28,328.27 L484.63,327.95 L484.98,327.66 L485.33,327.70 L485.68,328.10 L486.02,327.66 L486.37,327.97 L486.71,328.28 L487.04,328.18 L487.38,327.69 L487.71,327.90 L488.05,328.00 L488.38,328.16 L488.70,327.63 L489.03,327.51 L489.36,327.56 L489.68,327.89 L490.00,327.99 L490.32,327.96 L490.63,327.75 L490.95,328.29 L491.26,327.96 L491.57,327.80 L491.88,327.94 L492.19,328.10 L492.49,328.04 L492.80,327.71 L493.10,327.55 L493.40,327.80 L493.70,328.00 L494.00,327.67 L494.29,328.10 L494.59,327.55 L494.88,327.71 L495.17,328.14 L495.46,327.65 L495.75,328.01 L496.03,327.92 L496.32,328.24 L496.60,327.71 L496.88,327.55 L497.16,328.09 L497.44,328.12 L497.72,328.23 L497.99,328.25 L498.27,327.51 L498.54,327.69 L498.81,327.99 L499.08,328.26 L499.35,328.26 L499.62,327.95 L499.89,328.23 L500.15,328.01 L500.42,327.81 L500.68,327.89 L500.94,327.98 L501.20,327.94 L501.46,328.24 L501.72,328.23 L501.97,327.82 L502.23,328.27 L502.48,327.64" fill="none" stroke="#D95319" stroke-width="2" stroke-linejoin="round"/><g fill="none" stroke="#D95319" stroke-width="2.3"><circle cx="213.20" cy="244.54" r="3.8"/><circle cx="250.60" cy="220.95" r="3.8"/><circle cx="272.48" cy="201.09" r="3.8"/><circle cx="288.00" cy="187.61" r="3.8"/><circle cx="300.04" cy="177.27" r="3.8"/><circle cx="309.88" cy="170.55" r="3.8"/><circle cx="318.20" cy="167.28" r="3.8"/><circle cx="325.40" cy="166.80" r="3.8"/><circle cx="331.76" cy="168.56" r="3.8"/><circle cx="337.44" cy="172.64" r="3.8"/><circle cx="342.59" cy="177.61" r="3.8"/><circle cx="347.28" cy="183.59" r="3.8"/><circle cx="351.60" cy="190.27" r="3.8"/><circle cx="355.60" cy="197.51" r="3.8"/><circle cx="359.32" cy="206.06" r="3.8"/><circle cx="362.80" cy="215.42" r="3.8"/><circle cx="366.08" cy="224.27" r="3.8"/><circle cx="369.16" cy="232.93" r="3.8"/><circle cx="372.08" cy="241.96" r="3.8"/><circle cx="374.84" cy="250.58" r="3.8"/><circle cx="377.48" cy="258.22" r="3.8"/><circle cx="379.99" cy="265.32" r="3.8"/><circle cx="382.39" cy="272.03" r="3.8"/><circle cx="384.68" cy="277.95" r="3.8"/><circle cx="386.88" cy="283.45" r="3.8"/><circle cx="389.00" cy="288.62" r="3.8"/><circle cx="391.04" cy="293.32" r="3.8"/><circle cx="393.00" cy="297.53" r="3.8"/><circle cx="394.89" cy="301.37" r="3.8"/><circle cx="396.72" cy="304.85" r="3.8"/><circle cx="398.49" cy="308.04" r="3.8"/><circle cx="400.20" cy="310.89" r="3.8"/><circle cx="401.86" cy="313.09" r="3.8"/><circle cx="403.48" cy="314.96" r="3.8"/><circle cx="405.04" cy="316.29" r="3.8"/><circle cx="406.56" cy="317.08" r="3.8"/><circle cx="408.04" cy="317.72" r="3.8"/><circle cx="409.48" cy="318.15" r="3.8"/><circle cx="410.88" cy="318.30" r="3.8"/><circle cx="412.24" cy="318.17" r="3.8"/><circle cx="413.58" cy="317.88" r="3.8"/><circle cx="414.88" cy="317.53" r="3.8"/><circle cx="416.15" cy="317.07" r="3.8"/><circle cx="417.39" cy="316.43" r="3.8"/><circle cx="418.60" cy="315.81" r="3.8"/><circle cx="419.79" cy="315.38" r="3.8"/><circle cx="420.95" cy="314.99" r="3.8"/><circle cx="422.08" cy="314.64" r="3.8"/><circle cx="423.19" cy="314.37" r="3.8"/><circle cx="424.28" cy="314.22" r="3.8"/><circle cx="425.35" cy="314.22" r="3.8"/><circle cx="426.40" cy="314.33" r="3.8"/><circle cx="427.43" cy="314.52" r="3.8"/><circle cx="428.44" cy="314.77" r="3.8"/><circle cx="429.43" cy="315.06" r="3.8"/><circle cx="430.40" cy="315.37" r="3.8"/><circle cx="431.35" cy="315.83" r="3.8"/><circle cx="432.29" cy="316.47" r="3.8"/><circle cx="433.22" cy="317.21" r="3.8"/><circle cx="434.12" cy="318.03" r="3.8"/><circle cx="435.01" cy="318.86" r="3.8"/><circle cx="435.89" cy="319.67" r="3.8"/><circle cx="436.75" cy="320.48" r="3.8"/><circle cx="437.60" cy="321.34" r="3.8"/><circle cx="438.44" cy="320.84" r="3.8"/><circle cx="439.26" cy="323.44" r="3.8"/><circle cx="440.08" cy="325.05" r="3.8"/><circle cx="440.88" cy="326.29" r="3.8"/><circle cx="441.66" cy="329.66" r="3.8"/><circle cx="442.44" cy="330.18" r="3.8"/><circle cx="443.20" cy="332.47" r="3.8"/><circle cx="443.96" cy="331.06" r="3.8"/><circle cx="444.70" cy="331.31" r="3.8"/><circle cx="445.44" cy="332.83" r="3.8"/><circle cx="446.16" cy="330.57" r="3.8"/><circle cx="446.88" cy="329.02" r="3.8"/><circle cx="447.58" cy="331.01" r="3.8"/><circle cx="448.28" cy="328.77" r="3.8"/><circle cx="448.97" cy="329.75" r="3.8"/><circle cx="449.64" cy="329.42" r="3.8"/><circle cx="450.31" cy="329.75" r="3.8"/><circle cx="450.98" cy="328.76" r="3.8"/><circle cx="451.63" cy="329.02" r="3.8"/><circle cx="452.28" cy="327.59" r="3.8"/><circle cx="452.92" cy="327.21" r="3.8"/><circle cx="453.55" cy="329.10" r="3.8"/><circle cx="454.17" cy="327.50" r="3.8"/><circle cx="454.79" cy="329.12" r="3.8"/><circle cx="455.40" cy="328.08" r="3.8"/><circle cx="456.00" cy="327.88" r="3.8"/><circle cx="456.60" cy="326.22" r="3.8"/><circle cx="457.19" cy="328.85" r="3.8"/><circle cx="457.77" cy="327.24" r="3.8"/><circle cx="458.35" cy="327.65" r="3.8"/><circle cx="458.92" cy="327.11" r="3.8"/><circle cx="459.48" cy="326.56" r="3.8"/><circle cx="460.04" cy="328.70" r="3.8"/><circle cx="460.59" cy="327.65" r="3.8"/><circle cx="461.14" cy="325.83" r="3.8"/><circle cx="461.68" cy="327.80" r="3.8"/><circle cx="462.22" cy="327.12" r="3.8"/><circle cx="462.75" cy="327.49" r="3.8"/><circle cx="463.28" cy="328.15" r="3.8"/><circle cx="463.80" cy="327.21" r="3.8"/><circle cx="464.32" cy="328.21" r="3.8"/><circle cx="464.83" cy="327.71" r="3.8"/><circle cx="465.34" cy="326.62" r="3.8"/><circle cx="465.84" cy="328.28" r="3.8"/><circle cx="466.33" cy="327.86" r="3.8"/><circle cx="466.83" cy="328.42" r="3.8"/><circle cx="467.32" cy="326.95" r="3.8"/><circle cx="467.80" cy="326.90" r="3.8"/><circle cx="468.28" cy="328.34" r="3.8"/><circle cx="468.75" cy="327.93" r="3.8"/><circle cx="469.23" cy="326.80" r="3.8"/><circle cx="469.69" cy="328.05" r="3.8"/><circle cx="470.16" cy="328.06" r="3.8"/><circle cx="470.62" cy="328.38" r="3.8"/><circle cx="471.07" cy="328.01" r="3.8"/><circle cx="471.52" cy="326.97" r="3.8"/><circle cx="471.97" cy="326.79" r="3.8"/><circle cx="472.41" cy="326.82" r="3.8"/><circle cx="472.85" cy="326.84" r="3.8"/><circle cx="473.29" cy="327.25" r="3.8"/><circle cx="473.72" cy="328.37" r="3.8"/><circle cx="474.15" cy="327.81" r="3.8"/><circle cx="474.58" cy="327.86" r="3.8"/><circle cx="475.00" cy="328.05" r="3.8"/><circle cx="475.42" cy="327.49" r="3.8"/><circle cx="475.84" cy="327.63" r="3.8"/><circle cx="476.25" cy="327.89" r="3.8"/><circle cx="476.66" cy="328.21" r="3.8"/><circle cx="477.07" cy="327.90" r="3.8"/><circle cx="477.48" cy="327.48" r="3.8"/><circle cx="477.88" cy="328.11" r="3.8"/><circle cx="478.28" cy="327.67" r="3.8"/><circle cx="478.67" cy="328.13" r="3.8"/><circle cx="479.06" cy="327.80" r="3.8"/><circle cx="479.45" cy="328.19" r="3.8"/><circle cx="479.84" cy="328.10" r="3.8"/><circle cx="480.22" cy="327.94" r="3.8"/><circle cx="480.61" cy="327.61" r="3.8"/><circle cx="480.98" cy="327.55" r="3.8"/><circle cx="481.36" cy="327.60" r="3.8"/><circle cx="481.73" cy="327.54" r="3.8"/><circle cx="482.10" cy="327.59" r="3.8"/><circle cx="482.47" cy="327.68" r="3.8"/><circle cx="482.84" cy="328.07" r="3.8"/><circle cx="483.20" cy="327.95" r="3.8"/><circle cx="483.56" cy="327.51" r="3.8"/><circle cx="483.92" cy="327.56" r="3.8"/><circle cx="484.28" cy="328.27" r="3.8"/><circle cx="484.63" cy="327.95" r="3.8"/><circle cx="484.98" cy="327.66" r="3.8"/><circle cx="485.33" cy="327.70" r="3.8"/><circle cx="485.68" cy="328.10" r="3.8"/><circle cx="486.02" cy="327.66" r="3.8"/><circle cx="486.37" cy="327.97" r="3.8"/><circle cx="486.71" cy="328.28" r="3.8"/><circle cx="487.04" cy="328.18" r="3.8"/><circle cx="487.38" cy="327.69" r="3.8"/><circle cx="487.71" cy="327.90" r="3.8"/><circle cx="488.05" cy="328.00" r="3.8"/><circle cx="488.38" cy="328.16" r="3.8"/><circle cx="488.70" cy="327.63" r="3.8"/><circle cx="489.03" cy="327.51" r="3.8"/><circle cx="489.36" cy="327.56" r="3.8"/><circle cx="489.68" cy="327.89" r="3.8"/><circle cx="490.00" cy="327.99" r="3.8"/><circle cx="490.32" cy="327.96" r="3.8"/><circle cx="490.63" cy="327.75" r="3.8"/><circle cx="490.95" cy="328.29" r="3.8"/><circle cx="491.26" cy="327.96" r="3.8"/><circle cx="491.57" cy="327.80" r="3.8"/><circle cx="491.88" cy="327.94" r="3.8"/><circle cx="492.19" cy="328.10" r="3.8"/><circle cx="492.49" cy="328.04" r="3.8"/><circle cx="492.80" cy="327.71" r="3.8"/><circle cx="493.10" cy="327.55" r="3.8"/><circle cx="493.40" cy="327.80" r="3.8"/><circle cx="493.70" cy="328.00" r="3.8"/><circle cx="494.00" cy="327.67" r="3.8"/><circle cx="494.29" cy="328.10" r="3.8"/><circle cx="494.59" cy="327.55" r="3.8"/><circle cx="494.88" cy="327.71" r="3.8"/><circle cx="495.17" cy="328.14" r="3.8"/><circle cx="495.46" cy="327.65" r="3.8"/><circle cx="495.75" cy="328.01" r="3.8"/><circle cx="496.03" cy="327.92" r="3.8"/><circle cx="496.32" cy="328.24" r="3.8"/><circle cx="496.60" cy="327.71" r="3.8"/><circle cx="496.88" cy="327.55" r="3.8"/><circle cx="497.16" cy="328.09" r="3.8"/><circle cx="497.44" cy="328.12" r="3.8"/><circle cx="497.72" cy="328.23" r="3.8"/><circle cx="497.99" cy="328.25" r="3.8"/><circle cx="498.27" cy="327.51" r="3.8"/><circle cx="498.54" cy="327.69" r="3.8"/><circle cx="498.81" cy="327.99" r="3.8"/><circle cx="499.08" cy="328.26" r="3.8"/><circle cx="499.35" cy="328.26" r="3.8"/><circle cx="499.62" cy="327.95" r="3.8"/><circle cx="499.89" cy="328.23" r="3.8"/><circle cx="500.15" cy="328.01" r="3.8"/><circle cx="500.42" cy="327.81" r="3.8"/><circle cx="500.68" cy="327.89" r="3.8"/><circle cx="500.94" cy="327.98" r="3.8"/><circle cx="501.20" cy="327.94" r="3.8"/><circle cx="501.46" cy="328.24" r="3.8"/><circle cx="501.72" cy="328.23" r="3.8"/><circle cx="501.97" cy="327.82" r="3.8"/><circle cx="502.23" cy="328.27" r="3.8"/><circle cx="502.48" cy="327.64" r="3.8"/></g><path d="M213.20,233.40 L250.60,222.23 L272.48,214.47 L288.00,209.39 L300.04,205.49 L309.88,203.26 L318.20,202.80 L325.40,203.23 L331.76,205.20 L337.44,208.03 L342.59,211.73 L347.28,214.84 L351.60,219.63 L355.60,224.48 L359.32,230.70 L362.80,236.48 L366.08,242.42 L369.16,247.98 L372.08,253.14 L374.84,258.29 L377.48,263.63 L379.99,267.27 L382.39,270.79 L384.68,274.85 L386.88,278.99 L389.00,282.92 L391.04,286.78 L393.00,290.45 L394.89,293.73 L396.72,296.59 L398.49,299.22 L400.20,301.63 L401.86,303.84 L403.48,305.87 L405.04,307.82 L406.56,309.70 L408.04,311.40 L409.48,312.81 L410.88,313.85 L412.24,314.59 L413.58,315.20 L414.88,315.71 L416.15,316.17 L417.39,316.64 L418.60,317.12 L419.79,317.60 L420.95,318.05 L422.08,318.48 L423.19,318.91 L424.28,319.34 L425.35,319.79 L426.40,320.26 L427.43,320.76 L428.44,321.28 L429.43,321.83 L430.40,322.42 L431.35,323.04 L432.29,323.71 L433.22,324.43 L434.12,325.19 L435.01,325.97 L435.89,326.77 L436.75,327.60 L437.60,328.47 L438.44,328.71 L439.26,330.42 L440.08,331.19 L440.88,331.03 L441.66,333.79 L442.44,331.36 L443.20,330.81 L443.96,329.23 L444.70,328.03 L445.44,327.87 L446.16,328.97 L446.88,328.38 L447.58,327.00 L448.28,325.64 L448.97,328.03 L449.64,326.27 L450.31,327.26 L450.98,325.49 L451.63,327.53 L452.28,326.66 L452.92,327.02 L453.55,326.77 L454.17,326.58 L454.79,327.23 L455.40,328.60 L456.00,325.86 L456.60,326.52 L457.19,325.67 L457.77,327.91 L458.35,327.67 L458.92,326.26 L459.48,326.92 L460.04,327.66 L460.59,327.73 L461.14,326.17 L461.68,328.46 L462.22,327.75 L462.75,326.60 L463.28,327.94 L463.80,327.73 L464.32,327.83 L464.83,327.39 L465.34,326.82 L465.84,328.09 L466.33,327.51 L466.83,327.08 L467.32,326.94 L467.80,328.12 L468.28,327.25 L468.75,327.47 L469.23,327.61 L469.69,328.01 L470.16,327.66 L470.62,326.86 L471.07,327.62 L471.52,327.45 L471.97,327.56 L472.41,327.84 L472.85,327.04 L473.29,326.94 L473.72,326.81 L474.15,327.11 L474.58,326.65 L475.00,327.64 L475.42,327.38 L475.84,327.30 L476.25,327.23 L476.66,327.39 L477.07,327.34 L477.48,327.40 L477.88,327.56 L478.28,327.62 L478.67,327.86 L479.06,327.98 L479.45,327.23 L479.84,327.38 L480.22,327.72 L480.61,327.33 L480.98,327.90 L481.36,327.38 L481.73,327.81 L482.10,327.74 L482.47,327.86 L482.84,327.25 L483.20,327.41 L483.56,327.79 L483.92,327.30 L484.28,327.25 L484.63,327.52 L484.98,327.71 L485.33,327.28 L485.68,327.29 L486.02,327.28 L486.37,327.56 L486.71,327.78 L487.04,327.41 L487.38,327.95 L487.71,327.60 L488.05,327.75 L488.38,327.49 L488.70,327.75 L489.03,328.02 L489.36,327.62 L489.68,327.43 L490.00,327.60 L490.32,327.62 L490.63,327.67 L490.95,327.69 L491.26,327.30 L491.57,327.40 L491.88,327.63 L492.19,327.84 L492.49,327.90 L492.80,327.90 L493.10,327.68 L493.40,328.04 L493.70,327.55 L494.00,327.67 L494.29,327.88 L494.59,327.97 L494.88,327.62 L495.17,327.96 L495.46,327.64 L495.75,327.86 L496.03,327.30 L496.32,327.31 L496.60,328.04 L496.88,327.37 L497.16,327.82 L497.44,327.52 L497.72,327.45 L497.99,327.60 L498.27,328.04 L498.54,327.75 L498.81,328.03 L499.08,327.86 L499.35,327.70 L499.62,327.70 L499.89,327.47 L500.15,327.30 L500.42,327.63 L500.68,327.75 L500.94,328.00 L501.20,327.84 L501.46,327.97 L501.72,328.04 L501.97,328.05 L502.23,327.95 L502.48,327.41" fill="none" stroke="#0072BD" stroke-width="2" stroke-linejoin="round"/><g fill="none" stroke="#0072BD" stroke-width="2.3"><circle cx="213.20" cy="233.40" r="3.8"/><circle cx="250.60" cy="222.23" r="3.8"/><circle cx="272.48" cy="214.47" r="3.8"/><circle cx="288.00" cy="209.39" r="3.8"/><circle cx="300.04" cy="205.49" r="3.8"/><circle cx="309.88" cy="203.26" r="3.8"/><circle cx="318.20" cy="202.80" r="3.8"/><circle cx="325.40" cy="203.23" r="3.8"/><circle cx="331.76" cy="205.20" r="3.8"/><circle cx="337.44" cy="208.03" r="3.8"/><circle cx="342.59" cy="211.73" r="3.8"/><circle cx="347.28" cy="214.84" r="3.8"/><circle cx="351.60" cy="219.63" r="3.8"/><circle cx="355.60" cy="224.48" r="3.8"/><circle cx="359.32" cy="230.70" r="3.8"/><circle cx="362.80" cy="236.48" r="3.8"/><circle cx="366.08" cy="242.42" r="3.8"/><circle cx="369.16" cy="247.98" r="3.8"/><circle cx="372.08" cy="253.14" r="3.8"/><circle cx="374.84" cy="258.29" r="3.8"/><circle cx="377.48" cy="263.63" r="3.8"/><circle cx="379.99" cy="267.27" r="3.8"/><circle cx="382.39" cy="270.79" r="3.8"/><circle cx="384.68" cy="274.85" r="3.8"/><circle cx="386.88" cy="278.99" r="3.8"/><circle cx="389.00" cy="282.92" r="3.8"/><circle cx="391.04" cy="286.78" r="3.8"/><circle cx="393.00" cy="290.45" r="3.8"/><circle cx="394.89" cy="293.73" r="3.8"/><circle cx="396.72" cy="296.59" r="3.8"/><circle cx="398.49" cy="299.22" r="3.8"/><circle cx="400.20" cy="301.63" r="3.8"/><circle cx="401.86" cy="303.84" r="3.8"/><circle cx="403.48" cy="305.87" r="3.8"/><circle cx="405.04" cy="307.82" r="3.8"/><circle cx="406.56" cy="309.70" r="3.8"/><circle cx="408.04" cy="311.40" r="3.8"/><circle cx="409.48" cy="312.81" r="3.8"/><circle cx="410.88" cy="313.85" r="3.8"/><circle cx="412.24" cy="314.59" r="3.8"/><circle cx="413.58" cy="315.20" r="3.8"/><circle cx="414.88" cy="315.71" r="3.8"/><circle cx="416.15" cy="316.17" r="3.8"/><circle cx="417.39" cy="316.64" r="3.8"/><circle cx="418.60" cy="317.12" r="3.8"/><circle cx="419.79" cy="317.60" r="3.8"/><circle cx="420.95" cy="318.05" r="3.8"/><circle cx="422.08" cy="318.48" r="3.8"/><circle cx="423.19" cy="318.91" r="3.8"/><circle cx="424.28" cy="319.34" r="3.8"/><circle cx="425.35" cy="319.79" r="3.8"/><circle cx="426.40" cy="320.26" r="3.8"/><circle cx="427.43" cy="320.76" r="3.8"/><circle cx="428.44" cy="321.28" r="3.8"/><circle cx="429.43" cy="321.83" r="3.8"/><circle cx="430.40" cy="322.42" r="3.8"/><circle cx="431.35" cy="323.04" r="3.8"/><circle cx="432.29" cy="323.71" r="3.8"/><circle cx="433.22" cy="324.43" r="3.8"/><circle cx="434.12" cy="325.19" r="3.8"/><circle cx="435.01" cy="325.97" r="3.8"/><circle cx="435.89" cy="326.77" r="3.8"/><circle cx="436.75" cy="327.60" r="3.8"/><circle cx="437.60" cy="328.47" r="3.8"/><circle cx="438.44" cy="328.71" r="3.8"/><circle cx="439.26" cy="330.42" r="3.8"/><circle cx="440.08" cy="331.19" r="3.8"/><circle cx="440.88" cy="331.03" r="3.8"/><circle cx="441.66" cy="333.79" r="3.8"/><circle cx="442.44" cy="331.36" r="3.8"/><circle cx="443.20" cy="330.81" r="3.8"/><circle cx="443.96" cy="329.23" r="3.8"/><circle cx="444.70" cy="328.03" r="3.8"/><circle cx="445.44" cy="327.87" r="3.8"/><circle cx="446.16" cy="328.97" r="3.8"/><circle cx="446.88" cy="328.38" r="3.8"/><circle cx="447.58" cy="327.00" r="3.8"/><circle cx="448.28" cy="325.64" r="3.8"/><circle cx="448.97" cy="328.03" r="3.8"/><circle cx="449.64" cy="326.27" r="3.8"/><circle cx="450.31" cy="327.26" r="3.8"/><circle cx="450.98" cy="325.49" r="3.8"/><circle cx="451.63" cy="327.53" r="3.8"/><circle cx="452.28" cy="326.66" r="3.8"/><circle cx="452.92" cy="327.02" r="3.8"/><circle cx="453.55" cy="326.77" r="3.8"/><circle cx="454.17" cy="326.58" r="3.8"/><circle cx="454.79" cy="327.23" r="3.8"/><circle cx="455.40" cy="328.60" r="3.8"/><circle cx="456.00" cy="325.86" r="3.8"/><circle cx="456.60" cy="326.52" r="3.8"/><circle cx="457.19" cy="325.67" r="3.8"/><circle cx="457.77" cy="327.91" r="3.8"/><circle cx="458.35" cy="327.67" r="3.8"/><circle cx="458.92" cy="326.26" r="3.8"/><circle cx="459.48" cy="326.92" r="3.8"/><circle cx="460.04" cy="327.66" r="3.8"/><circle cx="460.59" cy="327.73" r="3.8"/><circle cx="461.14" cy="326.17" r="3.8"/><circle cx="461.68" cy="328.46" r="3.8"/><circle cx="462.22" cy="327.75" r="3.8"/><circle cx="462.75" cy="326.60" r="3.8"/><circle cx="463.28" cy="327.94" r="3.8"/><circle cx="463.80" cy="327.73" r="3.8"/><circle cx="464.32" cy="327.83" r="3.8"/><circle cx="464.83" cy="327.39" r="3.8"/><circle cx="465.34" cy="326.82" r="3.8"/><circle cx="465.84" cy="328.09" r="3.8"/><circle cx="466.33" cy="327.51" r="3.8"/><circle cx="466.83" cy="327.08" r="3.8"/><circle cx="467.32" cy="326.94" r="3.8"/><circle cx="467.80" cy="328.12" r="3.8"/><circle cx="468.28" cy="327.25" r="3.8"/><circle cx="468.75" cy="327.47" r="3.8"/><circle cx="469.23" cy="327.61" r="3.8"/><circle cx="469.69" cy="328.01" r="3.8"/><circle cx="470.16" cy="327.66" r="3.8"/><circle cx="470.62" cy="326.86" r="3.8"/><circle cx="471.07" cy="327.62" r="3.8"/><circle cx="471.52" cy="327.45" r="3.8"/><circle cx="471.97" cy="327.56" r="3.8"/><circle cx="472.41" cy="327.84" r="3.8"/><circle cx="472.85" cy="327.04" r="3.8"/><circle cx="473.29" cy="326.94" r="3.8"/><circle cx="473.72" cy="326.81" r="3.8"/><circle cx="474.15" cy="327.11" r="3.8"/><circle cx="474.58" cy="326.65" r="3.8"/><circle cx="475.00" cy="327.64" r="3.8"/><circle cx="475.42" cy="327.38" r="3.8"/><circle cx="475.84" cy="327.30" r="3.8"/><circle cx="476.25" cy="327.23" r="3.8"/><circle cx="476.66" cy="327.39" r="3.8"/><circle cx="477.07" cy="327.34" r="3.8"/><circle cx="477.48" cy="327.40" r="3.8"/><circle cx="477.88" cy="327.56" r="3.8"/><circle cx="478.28" cy="327.62" r="3.8"/><circle cx="478.67" cy="327.86" r="3.8"/><circle cx="479.06" cy="327.98" r="3.8"/><circle cx="479.45" cy="327.23" r="3.8"/><circle cx="479.84" cy="327.38" r="3.8"/><circle cx="480.22" cy="327.72" r="3.8"/><circle cx="480.61" cy="327.33" r="3.8"/><circle cx="480.98" cy="327.90" r="3.8"/><circle cx="481.36" cy="327.38" r="3.8"/><circle cx="481.73" cy="327.81" r="3.8"/><circle cx="482.10" cy="327.74" r="3.8"/><circle cx="482.47" cy="327.86" r="3.8"/><circle cx="482.84" cy="327.25" r="3.8"/><circle cx="483.20" cy="327.41" r="3.8"/><circle cx="483.56" cy="327.79" r="3.8"/><circle cx="483.92" cy="327.30" r="3.8"/><circle cx="484.28" cy="327.25" r="3.8"/><circle cx="484.63" cy="327.52" r="3.8"/><circle cx="484.98" cy="327.71" r="3.8"/><circle cx="485.33" cy="327.28" r="3.8"/><circle cx="485.68" cy="327.29" r="3.8"/><circle cx="486.02" cy="327.28" r="3.8"/><circle cx="486.37" cy="327.56" r="3.8"/><circle cx="486.71" cy="327.78" r="3.8"/><circle cx="487.04" cy="327.41" r="3.8"/><circle cx="487.38" cy="327.95" r="3.8"/><circle cx="487.71" cy="327.60" r="3.8"/><circle cx="488.05" cy="327.75" r="3.8"/><circle cx="488.38" cy="327.49" r="3.8"/><circle cx="488.70" cy="327.75" r="3.8"/><circle cx="489.03" cy="328.02" r="3.8"/><circle cx="489.36" cy="327.62" r="3.8"/><circle cx="489.68" cy="327.43" r="3.8"/><circle cx="490.00" cy="327.60" r="3.8"/><circle cx="490.32" cy="327.62" r="3.8"/><circle cx="490.63" cy="327.67" r="3.8"/><circle cx="490.95" cy="327.69" r="3.8"/><circle cx="491.26" cy="327.30" r="3.8"/><circle cx="491.57" cy="327.40" r="3.8"/><circle cx="491.88" cy="327.63" r="3.8"/><circle cx="492.19" cy="327.84" r="3.8"/><circle cx="492.49" cy="327.90" r="3.8"/><circle cx="492.80" cy="327.90" r="3.8"/><circle cx="493.10" cy="327.68" r="3.8"/><circle cx="493.40" cy="328.04" r="3.8"/><circle cx="493.70" cy="327.55" r="3.8"/><circle cx="494.00" cy="327.67" r="3.8"/><circle cx="494.29" cy="327.88" r="3.8"/><circle cx="494.59" cy="327.97" r="3.8"/><circle cx="494.88" cy="327.62" r="3.8"/><circle cx="495.17" cy="327.96" r="3.8"/><circle cx="495.46" cy="327.64" r="3.8"/><circle cx="495.75" cy="327.86" r="3.8"/><circle cx="496.03" cy="327.30" r="3.8"/><circle cx="496.32" cy="327.31" r="3.8"/><circle cx="496.60" cy="328.04" r="3.8"/><circle cx="496.88" cy="327.37" r="3.8"/><circle cx="497.16" cy="327.82" r="3.8"/><circle cx="497.44" cy="327.52" r="3.8"/><circle cx="497.72" cy="327.45" r="3.8"/><circle cx="497.99" cy="327.60" r="3.8"/><circle cx="498.27" cy="328.04" r="3.8"/><circle cx="498.54" cy="327.75" r="3.8"/><circle cx="498.81" cy="328.03" r="3.8"/><circle cx="499.08" cy="327.86" r="3.8"/><circle cx="499.35" cy="327.70" r="3.8"/><circle cx="499.62" cy="327.70" r="3.8"/><circle cx="499.89" cy="327.47" r="3.8"/><circle cx="500.15" cy="327.30" r="3.8"/><circle cx="500.42" cy="327.63" r="3.8"/><circle cx="500.68" cy="327.75" r="3.8"/><circle cx="500.94" cy="328.00" r="3.8"/><circle cx="501.20" cy="327.84" r="3.8"/><circle cx="501.46" cy="327.97" r="3.8"/><circle cx="501.72" cy="328.04" r="3.8"/><circle cx="501.97" cy="328.05" r="3.8"/><circle cx="502.23" cy="327.95" r="3.8"/><circle cx="502.48" cy="327.41" r="3.8"/></g><text x="31.44" y="45.70" font-size="13.33" fill="#262626">0.035</text><text x="38.86" y="86.60" font-size="13.33" fill="#262626">0.03</text><text x="31.44" y="127.70" font-size="13.33" fill="#262626">0.025</text><text x="38.86" y="168.80" font-size="13.33" fill="#262626">0.02</text><text x="31.44" y="210.00" font-size="13.33" fill="#262626" xml:space="preserve">0.0 5</text><path d="M763 0L583 0L583 1147Q518 1085 412.5 1023Q307 961 223 930L223 1104Q374 1175 487 1276Q600 1377 647 1472L763 1472Z" fill="#262626" transform="translate(49.97,210.00) scale(0.00651,-0.00651)"/><text x="38.86" y="251.00" font-size="13.33" fill="#262626" xml:space="preserve">0.0 </text><path d="M763 0L583 0L583 1147Q518 1085 412.5 1023Q307 961 223 930L223 1104Q374 1175 487 1276Q600 1377 647 1472L763 1472Z" fill="#262626" transform="translate(57.39,251.00) scale(0.00651,-0.00651)"/><text x="31.44" y="292.20" font-size="13.33" fill="#262626">0.005</text><text x="57.39" y="333.40" font-size="13.33" fill="#262626">0</text><text x="26.46" y="374.70" font-size="13.33" fill="#262626">−0.005</text><text x="57.40" y="392.20" font-size="13.33" fill="#262626" xml:space="preserve"> 0</text><path d="M763 0L583 0L583 1147Q518 1085 412.5 1023Q307 961 223 930L223 1104Q374 1175 487 1276Q600 1377 647 1472L763 1472Z" fill="#262626" transform="translate(57.40,392.20) scale(0.00651,-0.00651)"/><text x="72.40" y="386.00" font-size="9.33" fill="#262626">-4</text><text x="181.64" y="392.20" font-size="13.33" fill="#262626" xml:space="preserve"> 0</text><path d="M763 0L583 0L583 1147Q518 1085 412.5 1023Q307 961 223 930L223 1104Q374 1175 487 1276Q600 1377 647 1472L763 1472Z" fill="#262626" transform="translate(181.64,392.20) scale(0.00651,-0.00651)"/><text x="196.64" y="386.00" font-size="9.33" fill="#262626">-3</text><text x="305.88" y="392.20" font-size="13.33" fill="#262626" xml:space="preserve"> 0</text><path d="M763 0L583 0L583 1147Q518 1085 412.5 1023Q307 961 223 930L223 1104Q374 1175 487 1276Q600 1377 647 1472L763 1472Z" fill="#262626" transform="translate(305.88,392.20) scale(0.00651,-0.00651)"/><text x="320.88" y="386.00" font-size="9.33" fill="#262626">-2</text><text x="430.12" y="392.20" font-size="13.33" fill="#262626" xml:space="preserve"> 0</text><path d="M763 0L583 0L583 1147Q518 1085 412.5 1023Q307 961 223 930L223 1104Q374 1175 487 1276Q600 1377 647 1472L763 1472Z" fill="#262626" transform="translate(430.12,392.20) scale(0.00651,-0.00651)"/><text x="445.12" y="386.00" font-size="9.33" fill="#262626" xml:space="preserve">- </text><path d="M763 0L583 0L583 1147Q518 1085 412.5 1023Q307 961 223 930L223 1104Q374 1175 487 1276Q600 1377 647 1472L763 1472Z" fill="#262626" transform="translate(448.23,386.00) scale(0.00456,-0.00456)"/><text x="287.3" y="14.8" font-size="14.67" font-weight="bold" fill="#000" text-anchor="middle">General average non-normalized spectrum</text><text x="287.3" y="33.8" font-size="14.67" font-weight="bold" fill="#000" text-anchor="middle">compared to the von Karman spectrum</text><text x="286.5" y="411.6" font-size="14.67" fill="#262626" text-anchor="middle">Frequency n [Hz]</text><text transform="translate(18.9,205.6) rotate(-90)" font-size="14.67" fill="#262626" text-anchor="middle">Non-normalized spectrum nS(n) [m<tspan font-size="12" dy="-7.2">2</tspan><tspan dy="7.2">/s</tspan><tspan font-size="12" dy="-7.2">2</tspan><tspan dy="7.2">]</tspan></text><rect x="341.5" y="44.5" width="205.5" height="80.5" fill="#fff" stroke="#262626" stroke-width="1"/><line x1="345.8" y1="57.1" x2="385.6" y2="57.1" stroke="#EDB120" stroke-width="1.3"/><line x1="345.8" y1="78.5" x2="385.6" y2="78.5" stroke="#000" stroke-width="1.2"/><line x1="345.8" y1="98.0" x2="385.6" y2="98.0" stroke="#D95319" stroke-width="2"/><circle cx="365.6" cy="98.0" r="3.8" fill="none" stroke="#D95319" stroke-width="2.3"/><line x1="345.8" y1="115.0" x2="385.6" y2="115.0" stroke="#0072BD" stroke-width="2"/><circle cx="365.6" cy="115.0" r="3.8" fill="none" stroke="#0072BD" stroke-width="2.3"/><text x="388.5" y="60.0" font-size="12" fill="#000">von Karman spectrum L<tspan font-size="9.3" dy="5.0">C</tspan></text><text x="388.5" y="81.2" font-size="12" fill="#000">von Karman spectrum L<tspan font-size="9.3" dy="5.0">ESDU</tspan></text><text x="388.5" y="102.8" font-size="12" fill="#000">0.5m above the water level</text><text x="388.50" y="119.90" font-size="12" fill="#000" xml:space="preserve"> .5m above the water level</text><path d="M763 0L583 0L583 1147Q518 1085 412.5 1023Q307 961 223 930L223 1104Q374 1175 487 1276Q600 1377 647 1472L763 1472Z" fill="#000" transform="translate(388.50,119.90) scale(0.00586,-0.00586)"/></svg></body></html>
